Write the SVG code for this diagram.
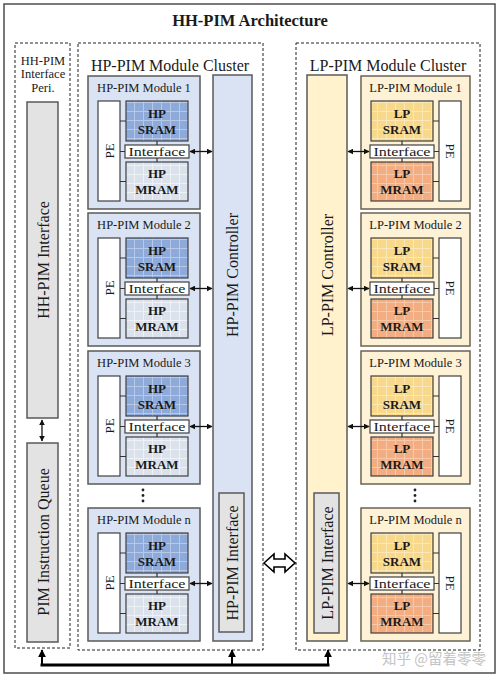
<svg xmlns="http://www.w3.org/2000/svg" width="499" height="680" viewBox="0 0 499 680">
<defs>
<style>
text{font-family:"Liberation Serif","Times New Roman",serif;fill:#1a1a1a}
.frame{fill:#fff;stroke:#4d4d4d;stroke-width:1.5}
.dash{fill:none;stroke:#222;stroke-width:1;stroke-dasharray:3,2}
.hpmod{fill:#dae3f3;stroke:#595959;stroke-width:1.5}
.lpmod{fill:#fdf1d6;stroke:#6b6255;stroke-width:1.5}
.hpctl{fill:#dae3f3;stroke:#595959;stroke-width:1.5}
.lpctl{fill:#fff2cc;stroke:#595959;stroke-width:1.5}
.gray{fill:#e3e3e3;stroke:#595959;stroke-width:1.5}
.white{fill:#fff;stroke:#404040;stroke-width:1.2}
.hpsram{fill:url(#gHS);stroke:#404040;stroke-width:1.2}
.hpmram{fill:url(#gHM);stroke:#404040;stroke-width:1.2}
.lpsram{fill:url(#gLS);stroke:#404040;stroke-width:1.2}
.lpmram{fill:url(#gLM);stroke:#404040;stroke-width:1.2}
.ln{stroke:#333;stroke-width:1.2;fill:none}
.ar{stroke:#111;stroke-width:1.3;fill:none;marker-start:url(#ah);marker-end:url(#ah)}
.bus{stroke:#000;stroke-width:3;fill:none}
.up{stroke:#000;stroke-width:2;fill:none;marker-end:url(#ahb)}
.mt{font-size:12.5px;text-anchor:middle}
.mem{font-size:13px;font-weight:bold;text-anchor:middle}
.itf{font-size:11.5px;text-anchor:middle}
.pe{font-size:13px;text-anchor:middle}
.vt{font-size:16px;text-anchor:middle}
.ct{font-size:16px;text-anchor:middle}
</style>
<pattern id="gHS" width="9" height="9" patternUnits="userSpaceOnUse"><rect width="9" height="9" fill="#8eaadb"/><path d="M8.5 0V9M0 8.5H9" stroke="#b8c9e8" stroke-width="1"/></pattern>
<pattern id="gHM" width="9" height="9" patternUnits="userSpaceOnUse"><rect width="9" height="9" fill="#dbe2ec"/><path d="M8.5 0V9M0 8.5H9" stroke="#eef2f7" stroke-width="1"/></pattern>
<pattern id="gLS" width="9" height="9" patternUnits="userSpaceOnUse"><rect width="9" height="9" fill="#f8d98c"/><path d="M8.5 0V9M0 8.5H9" stroke="#fbe8b8" stroke-width="1"/></pattern>
<pattern id="gLM" width="9" height="9" patternUnits="userSpaceOnUse"><rect width="9" height="9" fill="#f2ad82"/><path d="M8.5 0V9M0 8.5H9" stroke="#f7c9a9" stroke-width="1"/></pattern>
<marker id="ah" viewBox="0 0 10 10" refX="9" refY="5" markerWidth="6" markerHeight="6" orient="auto-start-reverse" markerUnits="userSpaceOnUse"><path d="M0 0L10 5L0 10z" fill="#111"/></marker>
<marker id="ahb" viewBox="0 0 10 10" refX="9" refY="5" markerWidth="8" markerHeight="8" orient="auto" markerUnits="userSpaceOnUse"><path d="M0 0L10 5L0 10z" fill="#000"/></marker>
<g id="hpm">
<rect class="hpmod" x="88" y="0" width="112" height="133"/>
<rect class="white" x="98" y="25" width="22" height="100"/>
<rect class="hpsram" x="126" y="25" width="62" height="40"/>
<rect class="white" x="125" y="69" width="64" height="13"/>
<rect class="hpmram" x="126" y="86" width="62" height="39"/>
<path class="ln" d="M120 45H126M120 75.5H125M120 105.5H126M157 65V69M157 82V86"/>
<text class="pe" transform="translate(114 75) rotate(-90)">PE</text>
<text class="mem" x="157" y="42">HP</text>
<text class="mem" x="157" y="57.5">SRAM</text>
<text class="itf" x="157" y="79.6" textLength="57" lengthAdjust="spacingAndGlyphs">Interface</text>
<text class="mem" x="157" y="102">HP</text>
<text class="mem" x="157" y="117.5">MRAM</text>
<path class="ar" d="M190 75.5H212"/>
</g>
<g id="lpm">
<rect class="lpmod" x="361" y="0" width="109" height="133"/>
<rect class="white" x="439" y="25" width="22" height="100"/>
<rect class="lpsram" x="371" y="25" width="62" height="40"/>
<rect class="white" x="370" y="69" width="64" height="13"/>
<rect class="lpmram" x="371" y="86" width="62" height="39"/>
<path class="ln" d="M433 45H439M434 75.5H439M433 105.5H439M402 65V69M402 82V86"/>
<text class="pe" transform="translate(445.5 75) rotate(90)">PE</text>
<text class="mem" x="402" y="42">LP</text>
<text class="mem" x="402" y="57.5">SRAM</text>
<text class="itf" x="402" y="79.6" textLength="57" lengthAdjust="spacingAndGlyphs">Interface</text>
<text class="mem" x="402" y="102">LP</text>
<text class="mem" x="402" y="117.5">MRAM</text>
<path class="ar" d="M348 75.5H369"/>
</g>
</defs>
<rect class="frame" x="4" y="4" width="491" height="669"/>
<text x="250" y="25.5" font-size="16.5" font-weight="bold" text-anchor="middle">HH-PIM Architecture</text>

<g id="peri">
<rect class="dash" x="15" y="43" width="55" height="605"/>
<text x="43" y="65" font-size="12.5" text-anchor="middle">HH-PIM</text>
<text x="43" y="78" font-size="12.5" text-anchor="middle">Interface</text>
<text x="43" y="92" font-size="12.5" text-anchor="middle">Peri.</text>
</g>
<g id="hhpim-interface">
<rect class="gray" x="27" y="102" width="31" height="316"/>
<text class="vt" transform="translate(48.5 260) rotate(-90)">HH-PIM Interface</text>
</g>
<g id="instr-queue">
<rect class="gray" x="27" y="443" width="31" height="199"/>
<text class="vt" transform="translate(48.5 542) rotate(-90)">PIM Instruction Queue</text>
</g>

<g id="hp-cluster">
<rect class="dash" x="78" y="43" width="185" height="607"/>
<text class="ct" x="170" y="71">HP-PIM Module Cluster</text>
</g>
<g id="lp-cluster">
<rect class="dash" x="296" y="43" width="184" height="607"/>
<text class="ct" x="388" y="71">LP-PIM Module Cluster</text>
</g>

<g id="hp-controller">
<rect class="hpctl" x="213" y="75" width="39" height="566"/>
<text class="vt" transform="translate(238 275) rotate(-90)">HP-PIM Controller</text>
<rect class="gray" x="219" y="493" width="25" height="139"/>
<text class="vt" transform="translate(237.5 563) rotate(-90)">HP-PIM Interface</text>
</g>
<g id="lp-controller">
<rect class="lpctl" x="307" y="75" width="40" height="566"/>
<text class="vt" transform="translate(333 275) rotate(-90)">LP-PIM Controller</text>
<rect class="gray" x="314" y="493" width="25" height="140"/>
<text class="vt" transform="translate(332.5 563) rotate(-90)">LP-PIM Interface</text>
</g>

<g id="hp-module-1"><use href="#hpm" y="76"/><text class="mt" x="144" y="92">HP-PIM Module 1</text></g>
<g id="hp-module-2"><use href="#hpm" y="213"/><text class="mt" x="144" y="229">HP-PIM Module 2</text></g>
<g id="hp-module-3"><use href="#hpm" y="351"/><text class="mt" x="144" y="367">HP-PIM Module 3</text></g>
<g id="hp-module-n"><use href="#hpm" y="508"/><text class="mt" x="144" y="524">HP-PIM Module n</text></g>
<g id="hp-dots" fill="#222"><circle cx="143" cy="490" r="1.4"/><circle cx="143" cy="495.5" r="1.4"/><circle cx="143" cy="501" r="1.4"/></g>

<g id="lp-module-1"><use href="#lpm" y="76"/><text class="mt" x="415.5" y="92">LP-PIM Module 1</text></g>
<g id="lp-module-2"><use href="#lpm" y="213"/><text class="mt" x="415.5" y="229">LP-PIM Module 2</text></g>
<g id="lp-module-3"><use href="#lpm" y="351"/><text class="mt" x="415.5" y="367">LP-PIM Module 3</text></g>
<g id="lp-module-n"><use href="#lpm" y="508"/><text class="mt" x="415.5" y="524">LP-PIM Module n</text></g>
<g id="lp-dots" fill="#222"><circle cx="415" cy="490" r="1.4"/><circle cx="415" cy="495.5" r="1.4"/><circle cx="415" cy="501" r="1.4"/></g>

<g id="connectors">
<path class="ar" d="M42 420V441"/>
<polygon points="264,563 274,554 274,559 285,559 285,554 295,563 285,572 285,567 274,567 274,572" fill="#fff" stroke="#000" stroke-width="1.6" stroke-linejoin="miter"/>
<path class="bus" d="M40.5 665H329.5"/>
<path class="up" d="M42 665V650"/>
<path class="up" d="M232 665V650"/>
<path class="up" d="M328 665V650"/>
</g>
<text x="434" y="664" font-size="14.5" text-anchor="middle" style="font-family:'Noto Sans CJK SC',sans-serif;fill:#c4c4c4">知乎 @留着零零</text>
</svg>
